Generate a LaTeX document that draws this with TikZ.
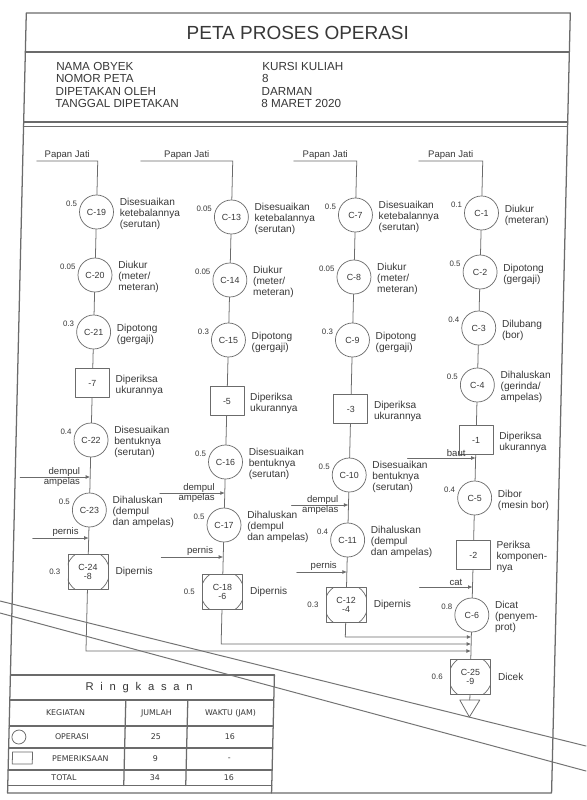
\documentclass[tikz,border=0pt]{standalone}
\usepackage{fontspec}
\setmainfont{Liberation Sans}
\newfontfamily\spaced[LetterSpace=60]{Liberation Sans}
\newfontfamily\tabfont{DejaVu Sans}
\usetikzlibrary{positioning,arrows.meta}
\definecolor{ink}{gray}{0.22}
\definecolor{rule}{gray}{0.42}
\tikzset{
  op/.style={circle, draw=rule, line width=0.5pt, minimum size=0.85cm, inner sep=0pt,
    font=\fontsize{6.3}{6.8}\selectfont, text=ink},
  insp/.style={rectangle, draw=rule, line width=0.5pt, minimum width=0.85cm,
    minimum height=0.72cm, inner sep=0pt, font=\fontsize{6.3}{6.8}\selectfont, text=ink},
  comb/.style={insp, minimum width=1cm, minimum height=0.88cm, align=center,
    path picture={\draw[rule, line width=0.5pt] (path picture bounding box.center) circle (0.54cm);}},
  tm/.style={font=\fontsize{5.6}{6}\selectfont, text=ink, inner sep=1pt},
  desc/.style={font=\fontsize{7.2}{7.9}\selectfont, text=ink, align=left, inner sep=1pt, anchor=west},
  inlbl/.style={font=\fontsize{6.8}{7.6}\selectfont, text=ink, inner sep=1pt},
  hd/.style={font=\fontsize{8.3}{9}\selectfont, text=ink, anchor=west, inner sep=0pt},
  cell/.style={font=\tabfont\fontsize{5.6}{6}\selectfont, text=ink, inner sep=0pt},
  flow/.style={draw=rule, line width=0.55pt},
  feed/.style={flow, -{Latex[length=3.2pt,width=2.8pt]}},
  frame/.style={draw=rule, line width=0.9pt},
  crease/.style={draw=black!55, line width=0.7pt},
}
\begin{document}
\begin{tikzpicture}[x=0.025cm, y=-0.025cm, line join=round, line cap=round]
\useasboundingbox (0,0) rectangle (586,800);
\fill[white] (0,0) rectangle (586,800);

\begin{scope}[xshift=0.24cm, xslant=0.024]
% kop
\draw[frame] (17,13) rectangle (561,793);
\draw[frame] (17,52) -- (561,52);
\draw[frame] (17,122) -- (561,122) (17,126.5) -- (561,126.5);
\node[font=\fontsize{13.5}{14}\selectfont, text=ink] (title) at (289,33) {PETA PROSES OPERASI};
\foreach \lab/\val [count=\i] in {NAMA OBYEK/KURSI KULIAH, NOMOR PETA/8,
    DIPETAKAN OLEH/DARMAN, TANGGAL DIPETAKAN/8 MARET 2020} {
  \node[hd] (hk\i) at (48,{53.5+12.5*\i}) {\lab};
  \node[hd] (hv\i) at (254,{53.5+12.5*\i}) {\val};
}

% kolom 1
\node[op] (c19) at (92,212) {C-19};
\node[op] (c20) at (92,275) {C-20};
\node[op] (c21) at (92,332) {C-21};
\node[insp] (i7) at (92,383) {-7};
\node[op] (c22) at (92,440) {C-22};
\node[op] (c23) at (92,510) {C-23};
\node[comb] (c24) at (92,572) {C-24\\-8};

% kolom 2
\node[op] (c13) at (227,217) {C-13};
\node[op] (c14) at (227,280) {C-14};
\node[op] (c15) at (227,340) {C-15};
\node[insp] (i5) at (227,401) {-5};
\node[op] (c16) at (227,462) {C-16};
\node[op] (c17) at (227,525) {C-17};
\node[comb] (c18) at (227,592) {C-18\\-6};

% kolom 3
\node[op] (c7) at (351,215) {C-7};
\node[op] (c8) at (351,277) {C-8};
\node[op] (c9) at (351,340) {C-9};
\node[insp] (i3) at (351,409) {-3};
\node[op] (c10) at (351,475) {C-10};
\node[op] (c11) at (351,540) {C-11};
\node[comb] (c12) at (351,605) {C-12\\-4};

% kolom 4
\node[op] (c1) at (477,213) {C-1};
\node[op] (c2) at (477,272) {C-2};
\node[op] (c3) at (477,328) {C-3};
\node[op] (c4) at (477,385) {C-4};
\node[insp] (i1) at (477,440) {-1};
\node[op] (c5) at (477,498) {C-5};
\node[insp] (i2) at (477,555) {-2};
\node[op] (c6) at (477,615) {C-6};
\node[comb] (c25) at (477,677) {C-25\\-9};
\coordinate (st) at (477,700);
\coordinate (stl) at (467,700);
\coordinate (str) at (487,700);
\coordinate (stb) at (477,717);
\draw[flow] (stl) -- (str) -- (stb) -- cycle;

% waktu
\foreach \n/\t in {c19/0.5, c20/0.05, c21/0.3, c22/0.4, c23/0.5,
    c13/0.05, c14/0.05, c15/0.3, c16/0.5, c17/0.5,
    c7/0.5, c8/0.05, c9/0.3, c10/0.5, c11/0.4,
    c1/0.1, c2/0.5, c3/0.4, c4/0.5, c5/0.4, c6/0.8}
  \node[tm, left=2pt of \n.150] (t\n) {\t};
\foreach \n/\t in {c24/0.3, c18/0.5, c12/0.3, c25/0.6}
  \node[tm, left=4pt of \n] (t\n) {\t};

% keterangan
\node[desc, right=3pt of c19, yshift=-1.5pt] (d19) {Disesuaikan\\ketebalannya\\(serutan)};
\node[desc, right=3pt of c20, yshift=-1.5pt] (d20) {Diukur\\(meter/\\meteran)};
\node[desc, right=3pt of c21, yshift=-1.5pt] (d21) {Dipotong\\(gergaji)};
\node[desc, right=3pt of i7, yshift=-1.5pt] (d7) {Diperiksa\\ukurannya};
\node[desc, right=3pt of c22, yshift=-1.5pt] (d22) {Disesuaikan\\bentuknya\\(serutan)};
\node[desc, right=3pt of c23, yshift=-1.5pt] (d23) {Dihaluskan\\(dempul\\dan ampelas)};
\node[desc, right=4pt of c24] (d24) {Dipernis};

\node[desc, right=3pt of c13, yshift=-1.5pt] (d13) {Disesuaikan\\ketebalannya\\(serutan)};
\node[desc, right=3pt of c14, yshift=-1.5pt] (d14) {Diukur\\(meter/\\meteran)};
\node[desc, right=3pt of c15, yshift=-1.5pt] (d15) {Dipotong\\(gergaji)};
\node[desc, right=3pt of i5, yshift=-1.5pt] (d5) {Diperiksa\\ukurannya};
\node[desc, right=3pt of c16, yshift=-1.5pt] (d16) {Disesuaikan\\bentuknya\\(serutan)};
\node[desc, right=3pt of c17, yshift=-1.5pt] (d17) {Dihaluskan\\(dempul\\dan ampelas)};
\node[desc, right=4pt of c18] (d18) {Dipernis};

\node[desc, right=3pt of c7, yshift=-1.5pt] (d7b) {Disesuaikan\\ketebalannya\\(serutan)};
\node[desc, right=3pt of c8, yshift=-1.5pt] (d8) {Diukur\\(meter/\\meteran)};
\node[desc, right=3pt of c9, yshift=-1.5pt] (d9) {Dipotong\\(gergaji)};
\node[desc, right=3pt of i3, yshift=-1.5pt] (d3b) {Diperiksa\\ukurannya};
\node[desc, right=3pt of c10, yshift=-1.5pt] (d10) {Disesuaikan\\bentuknya\\(serutan)};
\node[desc, right=3pt of c11, yshift=-1.5pt] (d11) {Dihaluskan\\(dempul\\dan ampelas)};
\node[desc, right=4pt of c12] (d12) {Dipernis};

\node[desc, right=3pt of c1, yshift=-1.5pt] (d1) {Diukur\\(meteran)};
\node[desc, right=3pt of c2, yshift=-1.5pt] (d2) {Dipotong\\(gergaji)};
\node[desc, right=3pt of c3, yshift=-1.5pt] (d3) {Dilubang\\(bor)};
\node[desc, right=3pt of c4, yshift=-1.5pt] (d4) {Dihaluskan\\(gerinda/\\ampelas)};
\node[desc, right=3pt of i1, yshift=-1.5pt] (d1b) {Diperiksa\\ukurannya};
\node[desc, right=3pt of c5, yshift=-1.5pt] (d5b) {Dibor\\(mesin bor)};
\node[desc, right=3pt of i2, yshift=-1.5pt] (d2b) {Periksa\\komponen-\\nya};
\node[desc, right=3pt of c6, yshift=-1.5pt] (d6) {Dicat\\(penyem-\\prot)};
\node[desc, right=4pt of c25] (d25) {Dicek};

% bahan masuk
\foreach \n/\xs/\xc in {19/31/92, 13/135/227, 7/288/351, 1/413/477} {
  \coordinate (p\n) at (\xs,161);
  \coordinate (q\n) at (\xc,161);
  \draw[flow] (p\n) -- node[inlbl, above] (l\n) {Papan Jati} (q\n) -- (c\n);
}
\coordinate (a22) at (22,477);  \coordinate (j22) at (92,477);
\coordinate (a23) at (36,538);  \coordinate (j23) at (92,538);
\coordinate (a16) at (162,493); \coordinate (j16) at (227,493);
\coordinate (a17) at (165,557); \coordinate (j17) at (227,557);
\coordinate (a10) at (294,505); \coordinate (j10) at (351,505);
\coordinate (a11) at (301,572); \coordinate (j11) at (351,572);
\coordinate (a5) at (409,458);  \coordinate (j5) at (477,458);
\coordinate (a6) at (424,587);  \coordinate (j6) at (477,587);
\foreach \n in {22,16,10} {
  \draw[feed] (a\n) -- (j\n);
  \node[inlbl, align=right, left=6pt of j\n] (l\n) {dempul\\ampelas};
}
\foreach \n/\b in {23/pernis, 17/pernis, 11/pernis, 5/baut, 6/cat} {
  \draw[feed] (a\n) -- (j\n);
  \node[inlbl, above left=0pt and 6pt of j\n] (l\n) {\b};
}

% aliran
\draw[flow] (c19) -- (c20) -- (c21) -- (i7) -- (c22) -- (c23) -- (c24);
\draw[flow] (c13) -- (c14) -- (c15) -- (i5) -- (c16) -- (c17) -- (c18);
\draw[flow] (c7) -- (c8) -- (c9) -- (i3) -- (c10) -- (c11) -- (c12);
\draw[flow] (c1) -- (c2) -- (c3) -- (c4) -- (i1) -- (c5) -- (i2) -- (c6) -- (c25) -- (st);
\coordinate (m12) at (477,637);
\coordinate (m18) at (477,644);
\coordinate (m24) at (477,651);
\draw[feed] (c12) |- (m12);
\draw[feed] (c18) |- (m18);
\draw[feed] (c24) |- (m24);

% ringkasan
\draw[frame] (17,675) -- (281,675) (17,700) -- (281,700) (17,726) -- (281,726)
  (17,748) -- (281,748) (17,770) -- (281,770) (17,785.5) -- (281,785.5);
\draw[frame] (133,700) -- (133,785.5) (195,700) -- (195,785.5) (281,675) -- (281,793);
\node[font=\spaced\fontsize{8}{9}\selectfont, text=ink] (rk) at (146,688) {Ringkasan};
\node[cell] (k1) at (73,713) {KEGIATAN};
\node[cell] (k2) at (164,713) {JUMLAH};
\node[cell] (k3) at (238,713) {WAKTU (JAM)};
\draw[flow] (27,737) circle (7);
\draw[flow] (21,752) rectangle (41,764);
\node[cell] (o1) at (80,737) {OPERASI};
\node[cell] (o2) at (164,737) {25};
\node[cell] (o3) at (238,737) {16};
\node[cell] (e1) at (89,759) {PEMERIKSAAN};
\node[cell] (e2) at (164,759) {9};
\node[cell] (e3) at (238,759) {-};
\node[cell] (s1) at (73,778) {TOTAL};
\node[cell] (s2) at (164,778) {34};
\node[cell] (s3) at (238,778) {16};
\end{scope}

% lipatan kertas
\draw[crease] (0,601) -- (586,746);
\draw[crease] (0,613) -- (586,771);
\end{tikzpicture}
\end{document}
